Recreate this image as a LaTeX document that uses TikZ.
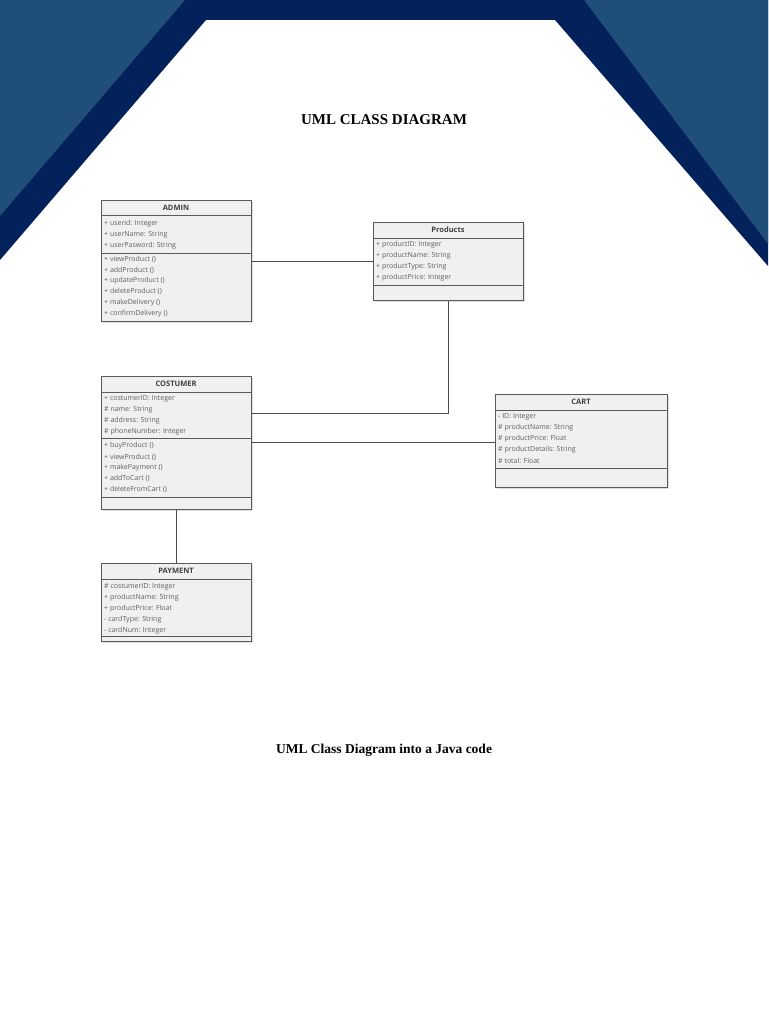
\documentclass[tikz,border=0pt]{standalone}
\usetikzlibrary{shadows}
\usepackage{fontspec}
\setmainfont{Liberation Serif}
\newfontfamily\uml{Open Sans}
\definecolor{navy}{HTML}{03215A}
\definecolor{lblue}{HTML}{1F4E79}
\definecolor{bfill}{HTML}{F0F0F0}
\definecolor{bline}{HTML}{5A5A5A}
\definecolor{tgrey}{HTML}{606060}
\begin{document}
\begin{tikzpicture}[x=1pt,y=-1pt,
  box/.style={draw=bline,line width=1.4pt,fill=bfill,anchor=north west,inner sep=0pt,
    drop shadow={shadow xshift=1pt,shadow yshift=-1pt,opacity=0.25}},
  sep/.style={draw=bline,line width=1pt},
  txt/.style={anchor=west,inner sep=0pt,font=\uml\fontsize{7}{8}\selectfont,text=tgrey},
  hdr/.style={inner sep=0pt,font=\uml\bfseries\fontsize{7.5}{9}\selectfont,text=black!75},
  conn/.style={draw=black!70,line width=0.9pt}]
\useasboundingbox (0,0) rectangle (768,1024);
\fill[white] (0,0) rectangle (768,1024);
\fill[navy] (0,0) -- (768,0) -- (768,266) -- (555,20) -- (206,20) -- (0,260) -- cycle;
\fill[lblue] (0,0) -- (185,0) -- (0,216) -- cycle;
\fill[lblue] (584,0) -- (768,0) -- (768,244) -- cycle;
\node[font=\bfseries\fontsize{15}{17}\selectfont] (title) at (384,120) {UML CLASS DIAGRAM};
\node[font=\bfseries\fontsize{13.5}{15}\selectfont] (sub) at (384,750) {UML Class Diagram into a Java code};
% ADMIN
\node[box,minimum width=150pt,minimum height=121pt] (admin) at (101,200) {};
\draw[sep] (101,216) -- (251,216); \draw[sep] (101,253) -- (251,253);
\node[hdr] at (176,208) {ADMIN};
\foreach \t [count=\i from 0] in {+ userid: Integer,+ userName: String,+ userPasword: String}
  \node[txt] at (104,224+\i*10.7) {\t};
\foreach \t [count=\i from 0] in {+ viewProduct (),+ addProduct (),+ updateProduct (),+ deleteProduct (),+ makeDelivery (),+ confirmDelivery ()}
  \node[txt] at (104,259+\i*10.9) {\t};
% Products
\node[box,minimum width=150pt,minimum height=78pt] (prod) at (373,222) {};
\draw[sep] (373,238) -- (523,238); \draw[sep] (373,285) -- (523,285);
\node[hdr] at (448,230) {Products};
\foreach \t [count=\i from 0] in {+ productID: Integer,+ productName: String,+ productType: String,+ productPrice: Integer}
  \node[txt] at (376,245+\i*10.9) {\t};
% COSTUMER
\node[box,minimum width=150pt,minimum height=133pt] (cost) at (101,376) {};
\draw[sep] (101,392) -- (251,392); \draw[sep] (101,438.5) -- (251,438.5); \draw[sep] (101,497) -- (251,497);
\node[hdr] at (176,384) {COSTUMER};
\foreach \t [count=\i from 0] in {+ costumerID: Integer,\# name: String,\# address: String,\# phoneNumber: Integer}
  \node[txt] at (104,399+\i*10.9) {\t};
\foreach \t [count=\i from 0] in {+ buyProduct (),+ viewProduct (),+ makePayment (),+ addToCart (),+ deleteFromCart ()}
  \node[txt] at (104,446+\i*10.9) {\t};
% CART
\node[box,minimum width=172pt,minimum height=93pt] (cart) at (495,394) {};
\draw[sep] (495,410) -- (667,410); \draw[sep] (495,468) -- (667,468);
\node[hdr] at (581,402) {CART};
\foreach \t [count=\i from 0] in {- ID: Integer,\# productName: String,\# productPrice: Float,\# productDetails: String,\# total: Float}
  \node[txt] at (498,417+\i*10.9) {\t};
% PAYMENT
\node[box,minimum width=150pt,minimum height=78pt] (pay) at (101,563) {};
\draw[sep] (101,579) -- (251,579); \draw[sep] (101,636) -- (251,636);
\node[hdr] at (176,571) {PAYMENT};
\foreach \t [count=\i from 0] in {\# costumerID: Integer,+ productName: String,+ productPrice: Float,- cardType: String,- cardNum: Integer}
  \node[txt] at (104,587+\i*10.8) {\t};
% connectors
\draw[conn] (admin.east |- 0,261) -- (prod.west |- 0,261);
\draw[conn] (prod.south) |- (cost.east |- 0,413);
\draw[conn] (cost.east |- 0,442) -- (cart.west |- 0,442);
\draw[conn] (cost.south) -- (pay.north);
\end{tikzpicture}
\end{document}
